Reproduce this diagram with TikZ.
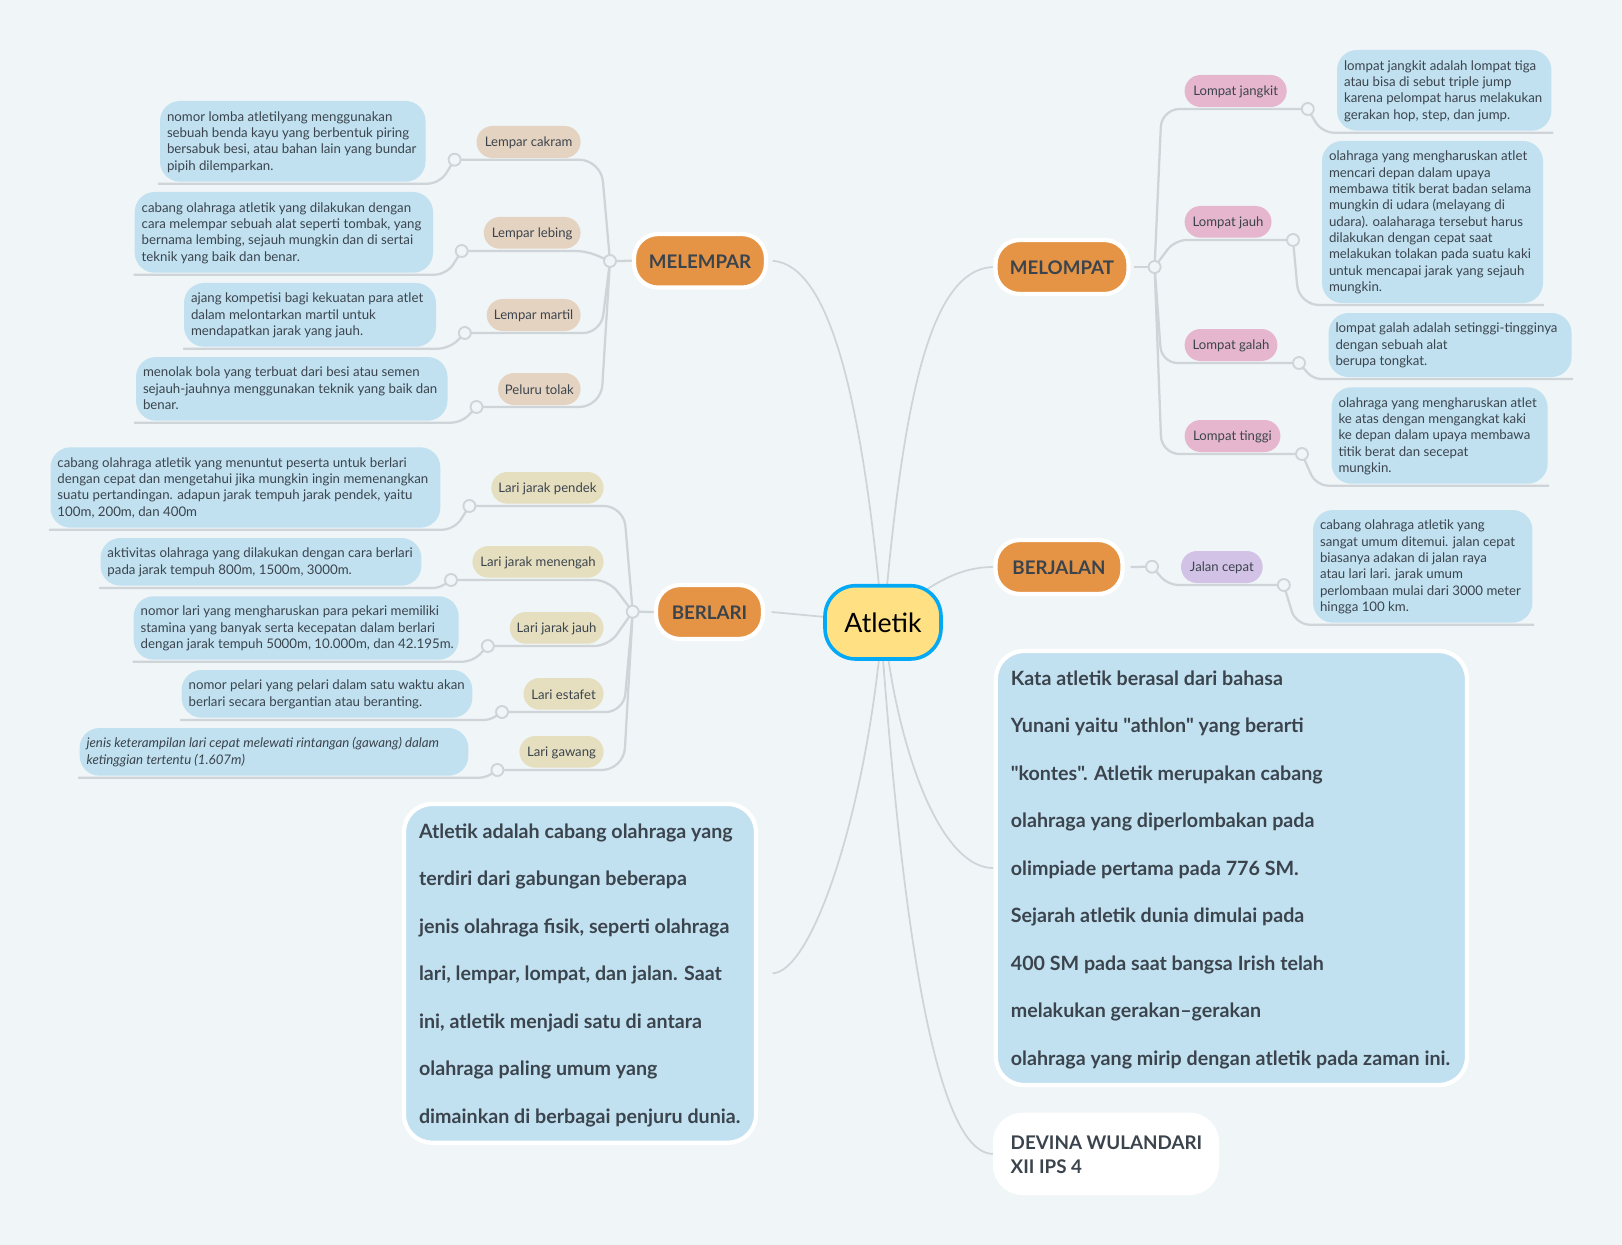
\documentclass[tikz,border=0pt]{standalone}
\usepackage{fontspec}
\setmainfont{Lato}[Ligatures=TeXOff]
\usetikzlibrary{backgrounds}
\definecolor{bgc}{HTML}{F0F5F8}
\definecolor{boxc}{HTML}{C1E1F1}
\definecolor{orangec}{HTML}{E59445}
\definecolor{beigec}{HTML}{E5D3C1}
\definecolor{khakic}{HTML}{E5DFC0}
\definecolor{pinkc}{HTML}{E5B6CE}
\definecolor{lavc}{HTML}{D2C2E5}
\definecolor{yelc}{HTML}{FFE082}
\definecolor{bluec}{HTML}{03A9F4}
\definecolor{txtc}{HTML}{3B444D}
\definecolor{linec}{HTML}{CFD4D8}
\tikzset{
  x=0.75pt,y=-0.75pt,
  anynode/.style={rectangle,inner sep=0pt,outer sep=0pt,text=txtc},
  detail/.style={anynode,fill=boxc,rounded corners=15pt,font=\fontsize{9.95}{12.25}\selectfont},
  detailit/.style={detail,font=\fontsize{9.95}{12.25}\selectfont\itshape},
  pill/.style={anynode,rounded corners=12pt,font=\fontsize{9.85}{12}\selectfont},
  header/.style={anynode,fill=orangec,draw=white,line width=3.2pt,rounded corners=18pt,font=\fontsize{14.05}{18}\selectfont\bfseries},
  bigbox/.style={anynode,fill=boxc,draw=white,line width=3.2pt,rounded corners=21pt,font=\fontsize{14.75}{35.6}\selectfont\bfseries},
  namebox/.style={anynode,fill=white,rounded corners=22pt,font=\fontsize{14.1}{18}\selectfont\bfseries},
  rootn/.style={anynode,fill=yelc,draw=bluec,line width=2.7pt,rounded corners=23pt,text=black,font=\fontsize{20}{24}\selectfont},
  dotn/.style={circle,inner sep=0pt,outer sep=0pt,minimum size=9pt,fill=bgc,draw=linec,line width=1.4pt},
  cn/.style={draw=linec,line width=1.7pt},
  mainc/.style={draw=linec,line width=1.3pt}
}
\newcommand\ndpad{5.25pt}
\newcommand\ndrs{-0.7pt}
\newcommand\ncrs{-0.7pt}
\newcommand\nd[7][]{%
  \pgfmathsetlengthmacro\ndw{(#4-#3)*0.75pt}%
  \pgfmathsetlengthmacro\ndh{(#6-#5)*0.75pt}%
  \node[#1,minimum width=\ndw,minimum height=\ndh] (#2) at ({(#3+#4)/2},{(#5+#6)/2})
    {\makebox[\ndw][l]{\hspace*{\ndpad}\raisebox{\ndrs}[\height][\depth]{\begin{tabular}{@{}l@{}}#7\end{tabular}}}};}
\newcommand\nc[7][]{%
  \pgfmathsetlengthmacro\ndw{(#4-#3)*0.75pt}%
  \pgfmathsetlengthmacro\ndh{(#6-#5)*0.75pt}%
  \node[#1,minimum width=\ndw,minimum height=\ndh] (#2) at ({(#3+#4)/2},{(#5+#6)/2}) {\raisebox{\ncrs}[\height][\depth]{#7}};}
\newcommand\br[4]{\draw[cn,rounded corners=#4*0.75pt] (#1.center) -- ([xshift=#3*0.75pt]#1.center |- #2.center) -- (#2.center);}
\newcommand\ul[4]{\draw[cn,rounded corners=#4*0.75pt] (#1.center) -- ([xshift=#3*0.75pt]#1.center |- #2) -- (#2);}
\begin{document}
\begin{tikzpicture}
\useasboundingbox (0,0) rectangle (1622,1245);
% root and headers
\renewcommand\ncrs{0pt}
\nc[rootn]{atl}{825}{941}{585.7}{659}{Atletik}
\renewcommand\ncrs{-0.5pt}
\nc[header]{melempar}{634}{766}{234}{287.6}{MELEMPAR}
\nc[header]{berlari}{656}{763}{585}{639}{BERLARI}
\nc[header]{melompat}{995.5}{1128.5}{240}{294}{MELOMPAT}
\nc[header]{berjalan}{995.5}{1122.5}{540}{594}{BERJALAN}
\renewcommand\ncrs{-0.7pt}
% MELEMPAR
\nc[pill,fill=beigec]{p1}{476.5}{580.6}{126}{158}{Lempar cakram}
\nc[pill,fill=beigec]{p2}{483.7}{580.6}{217}{248.7}{Lempar lebing}
\nc[pill,fill=beigec]{p3}{486.7}{580.6}{299}{331}{Lempar martil}
\nc[pill,fill=beigec]{p4}{498}{580.6}{373}{405}{Peluru tolak}
\nd[detail]{t1}{160}{425.5}{101}{181.7}{nomor lomba atletilyang menggunakan\\sebuah benda kayu yang berbentuk piring\\bersabuk besi, atau bahan lain yang bundar\\pipih dilemparkan.}
\nd[detail]{t2}{134.7}{433}{192}{272.7}{cabang olahraga atletik yang dilakukan dengan\\cara melempar sebuah alat seperti tombak, yang\\bernama lembing, sejauh mungkin dan di sertai\\teknik yang baik dan benar.}
\nd[detail]{t3}{184}{436}{283}{346.7}{ajang kompetisi bagi kekuatan para atlet\\dalam melontarkan martil untuk\\mendapatkan jarak yang jauh.}
\nd[detail]{t4}{136}{447.5}{357}{420.7}{menolak bola yang terbuat dari besi atau semen\\sejauh-jauhnya menggunakan teknik yang baik dan\\benar.}
% BERLARI
\nc[pill,fill=khakic]{q1}{491.3}{603.6}{472}{503.7}{Lari jarak pendek}
\nc[pill,fill=khakic]{q2}{472.4}{603.6}{546}{577.7}{Lari jarak menengah}
\nc[pill,fill=khakic]{q3}{509.7}{603.6}{612}{643.7}{Lari jarak jauh}
\nc[pill,fill=khakic]{q4}{523.5}{603.6}{678}{709.7}{Lari estafet}
\nc[pill,fill=khakic]{q5}{519.4}{603.6}{736}{767.7}{Lari gawang}
\nd[detail]{s1}{50.5}{440.3}{447.3}{527.7}{cabang olahraga atletik yang menuntut peserta untuk berlari\\dengan cepat dan mengetahui jika mungkin ingin memenangkan\\suatu pertandingan. adapun jarak tempuh jarak pendek, yaitu\\100m, 200m, dan 400m}
\nd[detail]{s2}{100.5}{421.4}{538}{585.7}{aktivitas olahraga yang dilakukan dengan cara berlari\\pada jarak tempuh 800m, 1500m, 3000m.}
\nd[detail]{s3}{133.7}{458.7}{596.3}{659.7}{nomor lari yang mengharuskan para pekari memiliki\\stamina yang banyak serta kecepatan dalam berlari\\dengan jarak tempuh 5000m, 10.000m, dan 42.195m.}
\nd[detail]{s4}{181.6}{472.4}{670}{717.7}{nomor pelari yang pelari dalam satu waktu akan\\berlari secara bergantian atau beranting.}
\nd[detailit]{s5}{79.6}{468.4}{728}{775.7}{\itshape jenis keterampilan lari cepat melewati rintangan (gawang) dalam\\\itshape ketinggian tertentu (1.607m)}
% MELOMPAT
\nc[pill,fill=pinkc]{r1}{1184.6}{1286.7}{75}{107}{Lompat jangkit}
\nc[pill,fill=pinkc]{r2}{1184.6}{1271.5}{206}{237.7}{Lompat jauh}
\nc[pill,fill=pinkc]{r3}{1184.6}{1277.4}{329}{361}{Lompat galah}
\nc[pill,fill=pinkc]{r4}{1184.6}{1280.4}{420}{452}{Lompat tinggi}
\nd[detail]{v1}{1337}{1551.4}{50}{130.7}{lompat jangkit adalah lompat tiga\\atau bisa di sebut triple jump\\karena pelompat harus melakukan\\gerakan hop, step, dan jump.}
\nd[detail]{v2}{1322}{1543}{141}{303}{olahraga yang mengharuskan atlet\\mencari depan dalam upaya\\membawa titik berat badan selama\\mungkin di udara (melayang di\\udara). oalaharaga tersebut harus\\dilakukan dengan cepat saat\\melakukan tolakan pada suatu kaki\\untuk mencapai jarak yang sejauh\\mungkin.}
\nd[detail]{v3}{1328.5}{1571.6}{313}{377}{lompat galah adalah setinggi-tingginya\\dengan sebuah alat\\berupa tongkat.}
\nd[detail]{v4}{1331.5}{1547.6}{387.3}{483.7}{olahraga yang mengharuskan atlet\\ke atas dengan mengangkat kaki\\ke depan dalam upaya membawa\\titik berat dan secepat\\mungkin.}
% BERJALAN
\nc[pill,fill=lavc]{w1}{1181}{1262.7}{551}{583}{Jalan cepat}
\nd[detail]{x1}{1313}{1532.4}{510}{622.7}{cabang olahraga atletik yang\\sangat umum ditemui. jalan cepat\\biasanya adakan di jalan raya\\atau lari lari. jarak umum\\perlombaan mulai dari 3000 meter\\hingga 100 km.}
% big boxes
\renewcommand\ndpad{11.3pt}
\renewcommand\ndrs{1.6pt}
\nd[bigbox]{atlbox}{404}{756}{804}{1142.7}{Atletik adalah cabang olahraga yang\\terdiri dari gabungan beberapa\\jenis olahraga fisik, seperti olahraga\\lari, lempar, lompat, dan jalan. Saat\\ini, atletik menjadi satu di antara\\olahraga paling umum yang\\dimainkan di berbagai penjuru dunia.}
\nd[bigbox]{katabox}{995.8}{1467}{651}{1085}{Kata atletik berasal dari bahasa\\Yunani yaitu "athlon" yang berarti\\"kontes". Atletik merupakan cabang\\olahraga yang diperlombakan pada\\olimpiade pertama pada 776 SM.\\Sejarah atletik dunia dimulai pada\\400 SM pada saat bangsa Irish telah\\melakukan gerakan–gerakan\\olahraga yang mirip dengan atletik pada zaman ini.}
\renewcommand\ndpad{13.3pt}
\renewcommand\ndrs{-2.3pt}
\nd[namebox]{devina}{993}{1219}{1112.7}{1195}{DEVINA WULANDARI\\XII IPS 4}
% junctions
\node[dotn] (jm) at (610,261) {};
\node[dotn] (jb) at (632.7,611.7) {};
\node[dotn] (jo) at (1154.6,267) {};
\node[dotn] (jj) at (1152,566.7) {};
% pill dots
\node[dotn] (dp1) at (454.6,159.7) {};
\node[dotn] (dp2) at (461.7,251) {};
\node[dotn] (dp3) at (464.8,333) {};
\node[dotn] (dp4) at (476.5,407) {};
\node[dotn] (dq1) at (469.4,506) {};
\node[dotn] (dq2) at (451,580) {};
\node[dotn] (dq3) at (487.8,646) {};
\node[dotn] (dq4) at (502,712) {};
\node[dotn] (dq5) at (497.4,770) {};
\node[dotn] (dr1) at (1307.8,109) {};
\node[dotn] (dr2) at (1293,240) {};
\node[dotn] (dr3) at (1299,363) {};
\node[dotn] (dr4) at (1302,454) {};
\node[dotn] (dw1) at (1283.8,585) {};
% underline ends
\coordinate (ut1) at (158,183.7);
\coordinate (ut2) at (133.7,274.7);
\coordinate (ut3) at (183,348.7);
\coordinate (ut4) at (134,422.7);
\coordinate (us1) at (49,529.7);
\coordinate (us2) at (99,588);
\coordinate (us3) at (132.7,661.7);
\coordinate (us4) at (180,720);
\coordinate (us5) at (78,777.7);
\coordinate (uv1) at (1553,132.7);
\coordinate (uv2) at (1543.8,305);
\coordinate (uv3) at (1573,379);
\coordinate (uv4) at (1549,485.7);
\coordinate (ux1) at (1534,624.7);
\begin{pgfonlayer}{background}
\fill[bgc] (0,0) rectangle (1622,1245);
% root connectors
\draw[mainc] ([xshift=-3pt]atl.north) .. controls (860,400) and (830,265) .. ([xshift=5pt]melempar.east);
\draw[mainc] ([xshift=3pt]atl.north) .. controls (905,400) and (930,270) .. ([xshift=-2pt]melompat.west);
\draw[mainc] (atl.center) .. controls (925,588) and (955,567) .. ([xshift=-2pt]berjalan.west);
\draw[mainc] (atl.center) -- ([xshift=6.5pt]berlari.east);
\draw[mainc] ([xshift=-3pt]atl.south) .. controls (860,830) and (810,972) .. ([xshift=12.4pt]atlbox.east);
\draw[mainc] ([xshift=4pt]atl.south) .. controls (905,770) and (945,868) .. ([xshift=-2pt]katabox.west);
\draw[mainc] (atl.south) .. controls (900,880) and (930,1154) .. (devina.west);
% stems
\draw[cn] (jm.center) -- (melempar.west);
\draw[cn] (jb.center) -- (berlari.west);
\draw[cn] (jo.center) -- ([xshift=3.75pt]melompat.east);
\draw[cn] (jj.center) -- ([xshift=6pt]berjalan.east);
% branches
\br{jm}{dp1}{-9}{22}
\br{jm}{dp2}{-24}{10}
\br{jm}{dp3}{-9}{18}
\br{jm}{dp4}{-9}{22}
\br{jb}{dq1}{-9}{20}
\br{jb}{dq2}{-24}{14}
\br{jb}{dq3}{-24}{14}
\br{jb}{dq4}{-9}{18}
\br{jb}{dq5}{-9}{22}
\br{jo}{dr1}{7}{18}
\br{jo}{dr2}{20}{12}
\br{jo}{dr3}{7}{16}
\br{jo}{dr4}{7}{18}
\br{jj}{dw1}{16}{10}
% dots to underlines
\ul{dp1}{ut1}{-15}{12}
\ul{dp2}{ut2}{-15}{12}
\ul{dp3}{ut3}{-15}{12}
\ul{dp4}{ut4}{-15}{10}
\ul{dq1}{us1}{-15}{12}
\ul{dq2}{us2}{-12}{6}
\ul{dq3}{us3}{-15}{10}
\ul{dq4}{us4}{-12}{6}
\ul{dq5}{us5}{-12}{6}
\ul{dr1}{uv1}{14}{12}
\ul{dr2}{uv2}{6}{20}
\ul{dr3}{uv3}{14}{8}
\ul{dr4}{uv4}{14}{12}
\ul{dw1}{ux1}{12}{14}
\end{pgfonlayer}
\end{tikzpicture}
\end{document}
